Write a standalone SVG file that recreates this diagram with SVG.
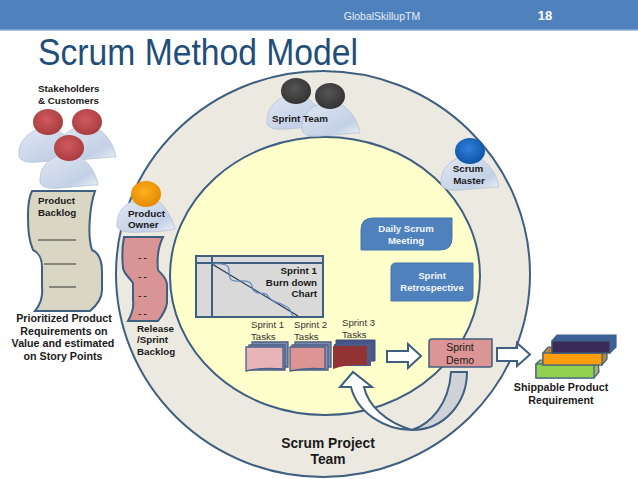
<svg xmlns="http://www.w3.org/2000/svg" width="638" height="479" viewBox="0 0 638 479">
<defs>
<style>
text{font-family:"Liberation Sans",Arial,sans-serif;fill:#1a1a1a;font-size:9.8px}
.b{font-weight:bold}
.m{text-anchor:middle}
.big{font-size:10.7px}
.r{font-size:9.6px;fill:#333}
.w{fill:#f2f6fb;font-weight:bold;text-anchor:middle;font-size:9.6px}
.ln{stroke:#3f5f80;stroke-width:2;fill:none}
.arrow{fill:#fff;stroke:#3f5f80;stroke-width:2;stroke-linejoin:miter}
.task{stroke:#4a5f85;stroke-width:1.3}
.bk{stroke:#3f5f80;stroke-width:1.2}
</style>
<linearGradient id="body" x1="0" y1="0" x2="1" y2="1"><stop offset="0" stop-color="#dfe6f2"/><stop offset="0.7" stop-color="#c3d0e6"/><stop offset="1" stop-color="#eef2f8"/></linearGradient>
<radialGradient id="red" cx=".45" cy=".4" r=".6"><stop offset="0" stop-color="#cf5a5e"/><stop offset="1" stop-color="#a83c40"/></radialGradient>
<radialGradient id="dark" cx=".45" cy=".4" r=".6"><stop offset="0" stop-color="#555"/><stop offset="1" stop-color="#333"/></radialGradient>
<radialGradient id="blue" cx=".45" cy=".4" r=".6"><stop offset="0" stop-color="#2f80dd"/><stop offset="1" stop-color="#0f55a8"/></radialGradient>
<radialGradient id="orange" cx=".45" cy=".4" r=".6"><stop offset="0" stop-color="#ffb020"/><stop offset="1" stop-color="#e58a00"/></radialGradient>
<path id="person" d="M-12 -16C-22 -12 -30 -3 -29 10C-28 15 -21 17 -10 16C5 15 20 13 29 13C27 0 18 -12 9 -16Z" fill="url(#body)" stroke="#aebbd0" stroke-width=".7"/>
</defs>
<rect width="638" height="479" fill="#fff"/>
<g id="header">
<rect x="0" y="0" width="638" height="30" fill="#4f81bd"/>
<rect x="0" y="29.500" width="638" height="1.500" fill="#a9c1de"/>
<text x="382" y="20" class="m" style="fill:#e6edf6;font-size:10.500px">GlobalSkillupTM</text>
<text x="545" y="20" class="m b" style="fill:#fff;font-size:13px">18</text>
<text x="38" y="65" textLength="320" lengthAdjust="spacingAndGlyphs" style="fill:#1f4e79;font-size:36px">Scrum Method Model</text>
</g>
<g id="outer-circle"><ellipse cx="323" cy="274" rx="207" ry="203" fill="#ece9e1" stroke="#3f5f80" stroke-width="2"/></g>
<g id="inner-circle"><ellipse cx="325" cy="276" rx="155" ry="139" fill="#ffffcb" stroke="#3f5f80" stroke-width="2"/></g>
<text x="328" y="448" class="m b" style="font-size:13.800px">Scrum Project</text>
<text x="328" y="464" class="m b" style="font-size:13.800px">Team</text>
<g id="stakeholders">
<text x="38" y="92" class="b">Stakeholders</text>
<text x="38" y="104" class="b">&amp; Customers</text>
<use href="#person" x="48" y="146"/><use href="#person" x="87" y="144"/>
<ellipse cx="48" cy="122" rx="15" ry="13" fill="url(#red)"/>
<ellipse cx="87" cy="122" rx="15" ry="13" fill="url(#red)"/>
<use href="#person" x="69" y="172"/>
<ellipse cx="69" cy="148" rx="15" ry="13" fill="url(#red)"/>
</g>
<g id="product-backlog">
<path d="M32 191H95C90 205 87 235 92 250C97 252 102 258 102 272V290C102 298 96 306 90 311H35C40 305 43 296 42 287V267C42 258 38 252 33 250C29 240 28 232 28 215C28 205 29 197 32 191Z" fill="#d9d6c3" stroke="#3f5f80" stroke-width="2"/>
<text x="38" y="204" class="b">Product</text>
<text x="38" y="216" class="b">Backlog</text>
<path d="M38 240H76M44 264H76M49 287H76" stroke="#333" stroke-width="1"/>
<text x="64" y="322" class="m b big">Prioritized Product</text>
<text x="64" y="335" class="m b big">Requirements on</text>
<text x="63" y="347" class="m b big">Value and estimated</text>
<text x="63" y="360" class="m b big">on Story Points</text>
</g>
<g id="product-owner">
<path d="M131 202C122 206 116 215 117 227C120 232 130 233 143 232C155 232 167 231 175 229C172 217 165 206 159 202Z" fill="url(#body)" stroke="#aebbd0" stroke-width=".7"/>
<ellipse cx="146" cy="194" rx="15" ry="13" fill="url(#orange)"/>
<text x="128" y="217" class="b">Product</text>
<text x="128" y="228" class="b">Owner</text>
</g>
<g id="release-backlog">
<path d="M124 237H163C158 247 157 260 158 270C162 275 167 278 167 285V303C166 310 162 316 158 321H128C132 314 134 307 133 300V283C129 277 124 274 123 268C122 258 122 247 124 237Z" fill="#d99595" stroke="#3f5f80" stroke-width="2"/>
<text x="138" y="261" style="font-size:11px;letter-spacing:1.500px">--</text>
<text x="138" y="280" style="font-size:11px;letter-spacing:1.500px">--</text>
<text x="138" y="299" style="font-size:11px;letter-spacing:1.500px">--</text>
<text x="138" y="317" style="font-size:11px;letter-spacing:1.500px">--</text>
<text x="137" y="332" class="b">Release</text>
<text x="137" y="343" class="b">/Sprint</text>
<text x="137" y="355" class="b">Backlog</text>
</g>
<g id="sprint-team">
<use href="#person" x="296" y="113"/>
<use href="#person" x="331" y="120"/>
<ellipse cx="296" cy="91" rx="15" ry="13" fill="url(#dark)"/>
<ellipse cx="330" cy="96" rx="15" ry="13" fill="url(#dark)"/>
<text x="272" y="122" class="b">Sprint Team</text>
</g>
<g id="scrum-master">
<use href="#person" x="470" y="174"/>
<ellipse cx="470" cy="151" rx="15" ry="13" fill="url(#blue)"/>
<text x="468" y="172" class="m b">Scrum</text>
<text x="469" y="184" class="m b">Master</text>
</g>
<g id="daily-scrum">
<path d="M373 218H452V238Q452 250 440 250H361V230Q361 218 373 218Z" fill="#4f81bd" stroke="#4475ad"/>
<text x="406" y="232" class="w">Daily Scrum</text>
<text x="406" y="244" class="w">Meeting</text>
</g>
<g id="retrospective">
<path d="M396 263H473V296Q473 301 468 301H391V268Q391 263 396 263Z" fill="#4f81bd" stroke="#4475ad"/>
<text x="432" y="279" class="w">Sprint</text>
<text x="432" y="291" class="w">Retrospective</text>
</g>
<g id="burndown">
<rect x="196" y="256" width="127" height="61" fill="#d9d9d9" stroke="#3f5f80" stroke-width="2"/>
<path d="M196 263H323M212 256V317" class="ln"/>
<path d="M212 264L298 316" stroke="#26344a" stroke-width="1.200" fill="none"/>
<path d="M212 264C224 263 229 265 229 270C229 280 231 282 240 281C250 280 252 283 253 290C257 296 266 291 268 296C272 303 280 302 285 306C291 307 290 312 293 316" stroke="#5f86c0" stroke-width="1.200" fill="none"/>
<text x="317" y="274" class="b" text-anchor="end">Sprint 1</text>
<text x="317" y="286" class="b" text-anchor="end">Burn down</text>
<text x="317" y="297" class="b" text-anchor="end">Chart</text>
</g>
<g id="sprint1-tasks">
<path d="M252 342H288V367H252Z" fill="#7e8ab0" class="task"/><path d="M249 345H285V370H249Z" fill="#8894b8" class="task"/>
<path d="M246 347H283V369Q262 367 246 371Z" fill="#e8b4b8" class="task"/>
<text x="251" y="328" class="r">Sprint 1</text><text x="251" y="340" class="r">Tasks</text>
</g>
<g id="sprint2-tasks">
<path d="M295 342H331V367H295Z" fill="#7e8ab0" class="task"/><path d="M292 345H328V370H292Z" fill="#8894b8" class="task"/>
<path d="M290 347H325V369Q306 367 290 371Z" fill="#dc9494" class="task"/>
<text x="294" y="328" class="r">Sprint 2</text><text x="294" y="340" class="r">Tasks</text>
</g>
<g id="sprint3-tasks">
<path d="M336 340H375V361H336Z" fill="#46558a" stroke="#3f4f80"/><path d="M334 344H371V366H334Z" fill="#4f5c88"/>
<path d="M333 346H367V365Q348 364 333 369Z" fill="#933434"/>
<text x="342" y="326" class="r">Sprint 3</text><text x="342" y="338" class="r">Tasks</text>
</g>
<g id="sprint-demo">
<path d="M432 339H492V365Q492 367 490 367H429V342Q429 339 432 339Z" fill="#dc9494" stroke="#3f5f80" stroke-width="1.500"/>
<text x="460" y="351" class="m" style="font-size:10.500px">Sprint</text><text x="460" y="364" class="m" style="font-size:10.500px">Demo</text>
</g>
<g id="shippable">
<path d="M536 364L540 360H598L599 372L594 378H536Z" fill="#a3b564" class="bk"/>
<rect x="536" y="364" width="58" height="14" fill="#92d050" class="bk"/>
<path d="M543 353L548 347H607V359L602 365H543Z" fill="#b08a3e" class="bk"/>
<rect x="543" y="353" width="59" height="12" fill="#ff9d0a" class="bk"/>
<path d="M552 341L557 335H616V347L610 353H552Z" fill="#3d6199" class="bk"/>
<rect x="552" y="341" width="58" height="12" fill="#3a2a5a" class="bk"/>
<text x="561" y="391" class="m b big">Shippable Product</text>
<text x="561" y="404" class="m b big">Requirement</text>
</g>
<g id="connectors">
<path class="arrow" d="M387 351H408V344L421 356L408 368V362H387Z"/>
<path class="arrow" d="M497 348H517V343L530 354.500L517 366V361H497Z"/>
<path d="M451 372H467C467 402 445 430 412 430C430 424 449 405 451 372Z" fill="#cfd2d6" stroke="#3f5f80" stroke-width="2"/>
<path class="arrow" d="M412 430C384 430 357 412 351 387H340L353 372L372 387H364C368 405 385 422 412 430Z"/>
</g>
</svg>
